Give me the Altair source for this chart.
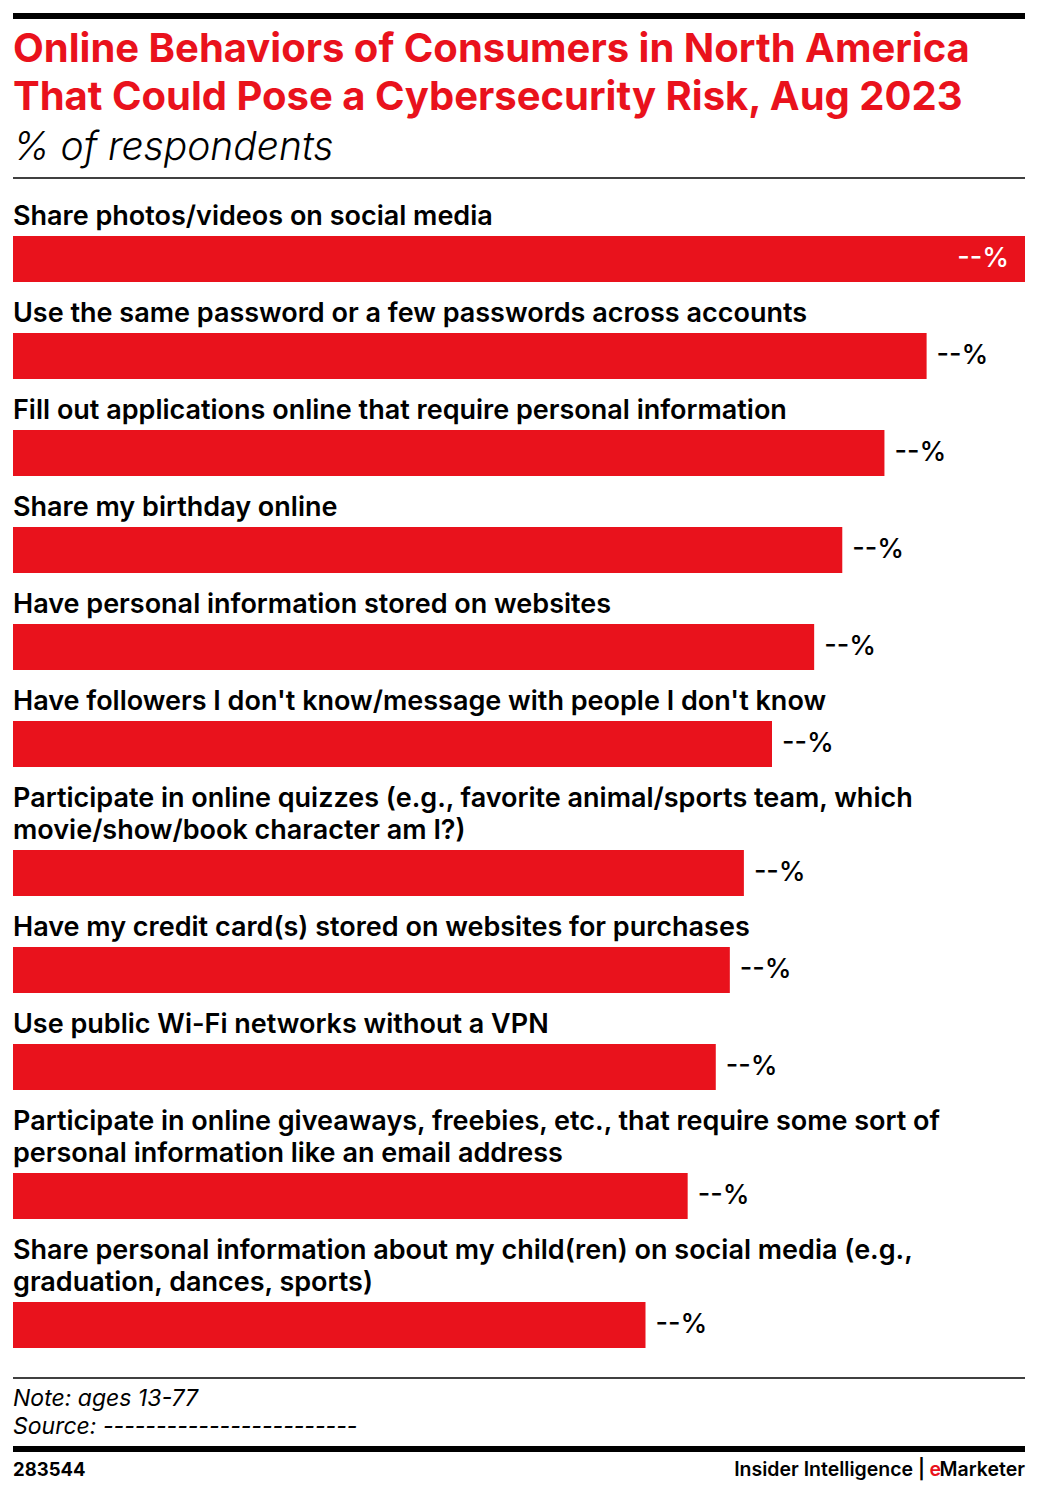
import altair as alt
import pandas as pd

# %%
title_lines = ["Online Behaviors of Consumers in North America",
               "That Could Pose a Cybersecurity Risk, Aug 2023"]
subtitle = "% of respondents"

behaviors = [
    "Share photos/videos on social media",
    "Use the same password or a few passwords across accounts",
    "Fill out applications online that require personal information",
    "Share my birthday online",
    "Have personal information stored on websites",
    "Have followers I don't know/message with people I don't know",
    "Participate in online quizzes (e.g., favorite animal/sports team, which\nmovie/show/book character am I?)",
    "Have my credit card(s) stored on websites for purchases",
    "Use public Wi-Fi networks without a VPN",
    "Participate in online giveaways, freebies, etc., that require some sort of\npersonal information like an email address",
    "Share personal information about my child(ren) on social media (e.g.,\ngraduation, dances, sports)",
]
shares = [72, 65, 62, 59, 57, 54, 52, 51, 50, 48, 45]
share_labels = ["--%"] * len(shares)

note_lines = ["Note: ages 13-77", "Source: ------------------------"]
chart_id = "283544"
brand_parts = ["Insider Intelligence |", "e", "Marketer"]

RED = "#e9121c"
FONT = "Inter"
W = 1012
one = pd.DataFrame({"k": [0]})


def txt(s, x, y, **kw):
    return alt.Chart(one).mark_text(font=FONT, baseline="alphabetic", **kw).encode(
        x=alt.value(x), y=alt.value(y), text=alt.value(s))


def rule(y, w):
    return alt.Chart(one).mark_rule(color="black", strokeWidth=w).encode(
        x=alt.value(0), x2=alt.value(W), y=alt.value(y))


# %% header: rules, title, subtitle
header = alt.layer(
    rule(6, 6),
    txt(title_lines[0], 0, 52, align="left", fontSize=40, fontWeight="bold", color=RED),
    txt(title_lines[1], 0, 100, align="left", fontSize=40, fontWeight="bold", color=RED),
    txt(subtitle, 0, 150, align="left", fontSize=39, fontStyle="italic", fontWeight=300, color="black"),
    rule(168, 1.5),
).properties(width=W, height=175)

# %% one small chart per behavior
rows = []
for name, val, lab in zip(behaviors, shares, share_labels):
    df = pd.DataFrame({"item": [name], "share": [val], "label": [lab]})
    base = alt.Chart(df).encode(
        x=alt.X("share:Q", axis=None, scale=alt.Scale(domain=[0, max(shares)], nice=False)),
        y=alt.Y("item:N", axis=None, scale=alt.Scale(paddingInner=0, paddingOuter=0)),
    )
    bar = base.mark_bar(color=RED)
    if val == max(shares):
        lbl = base.mark_text(align="right", baseline="middle", dx=-16, font=FONT,
                             fontSize=27, fontWeight=500, color="white")
    else:
        lbl = base.mark_text(align="left", baseline="middle", dx=10, font=FONT,
                             fontSize=27, fontWeight=500, color="black")
    row = (bar + lbl.encode(text="label:N")).properties(
        width=W, height=46,
        title=alt.TitleParams(name.split("\n"), anchor="start", font=FONT, fontSize=27,
                              fontWeight=600, color="black", lineHeight=32, offset=5),
    )
    rows.append(row)

# %% footer: note, source, brand
footer = alt.layer(
    rule(12, 1.5),
    txt(note_lines[0], 0, 40, align="left", fontSize=23, fontStyle="italic", color="black"),
    txt(note_lines[1], 0, 68, align="left", fontSize=23, fontStyle="italic", color="black"),
    rule(83, 6),
    txt(chart_id, 0, 110, align="left", fontSize=18.5, fontWeight="bold", color="black"),
    txt(brand_parts[2], W, 110, align="right", fontSize=19.5, fontWeight=600, color="black"),
    txt(brand_parts[1], W - 84, 110, align="right", fontSize=19.5, fontWeight=600, color=RED),
    txt(brand_parts[0], W - 100, 110, align="right", fontSize=19.5, fontWeight=600, color="black"),
).properties(width=W, height=120)

chart = alt.vconcat(header, *rows, footer, spacing=18).properties(
    padding={"left": 2, "top": 2, "right": 2, "bottom": 2}
).configure_view(strokeWidth=0)

chart.save("out.html", embed_options={"renderer": "svg", "actions": False})
